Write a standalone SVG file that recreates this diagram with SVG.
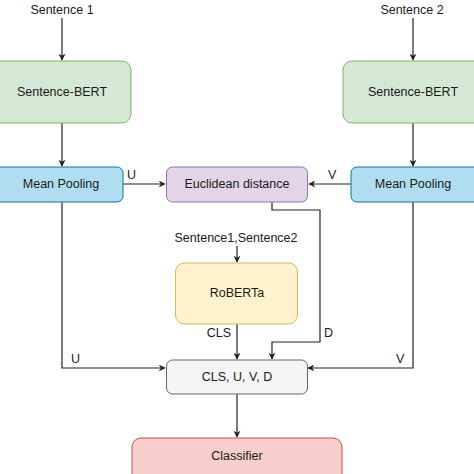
<svg xmlns="http://www.w3.org/2000/svg" width="474" height="474" viewBox="0 0 474 474">
<style>
text{font-family:"Liberation Sans",Arial,sans-serif;font-size:12.5px;fill:#1a1a1a;text-anchor:middle;dominant-baseline:central}
.lbl{text-anchor:start}
.c{fill:none;stroke:#222;stroke-width:1.2}
.g{fill:#d5e8d4;stroke:#82b366}
.b{fill:#b1ddf0;stroke:#10739e}
.p{fill:#e1d5e7;stroke:#9673a6}
.y{fill:#fff2cc;stroke:#d6b656}
.w{fill:#f5f5f5;stroke:#666666}
.r{fill:#f8cecc;stroke:#b85450}
</style>
<defs>
<marker id="ah" viewBox="0 0 10 10" refX="9" refY="5" markerWidth="7" markerHeight="7" orient="auto" markerUnits="userSpaceOnUse">
<path d="M0,0 L10,5 L0,10 L3,5 Z" fill="#222"/>
</marker>
</defs>
<rect width="474" height="474" fill="#fff"/>
<g id="connectors">
<line class="c" x1="62" y1="18" x2="62" y2="60" marker-end="url(#ah)"/>
<line class="c" x1="413" y1="18" x2="413" y2="60" marker-end="url(#ah)"/>
<line class="c" x1="62" y1="123" x2="62" y2="166" marker-end="url(#ah)"/>
<line class="c" x1="413" y1="123" x2="413" y2="166" marker-end="url(#ah)"/>
<line class="c" x1="123" y1="184" x2="165" y2="184" marker-end="url(#ah)"/>
<line class="c" x1="351" y1="184" x2="309" y2="184" marker-end="url(#ah)"/>
<polyline class="c" points="272,202 272,210 320,210 320,342 272,342 272,359" marker-end="url(#ah)"/>
<line class="c" x1="237" y1="246" x2="237" y2="262" marker-end="url(#ah)"/>
<line class="c" x1="237" y1="324" x2="237" y2="359" marker-end="url(#ah)"/>
<polyline class="c" points="62,202 62,368 165,368" marker-end="url(#ah)"/>
<polyline class="c" points="413,202 413,368 308,368" marker-end="url(#ah)"/>
<line class="c" x1="237" y1="394" x2="237" y2="437" marker-end="url(#ah)"/>
<text x="62" y="10">Sentence 1</text>
<text x="412" y="10">Sentence 2</text>
<text class="lbl" x="127" y="175">U</text>
<text class="lbl" x="328" y="175">V</text>
<text x="236" y="238">Sentence1,Sentence2</text>
<text x="219" y="333">CLS</text>
<text class="lbl" x="324" y="333">D</text>
<text class="lbl" x="71" y="359">U</text>
<text class="lbl" x="396" y="359">V</text>
</g>
<g id="sbert1"><rect class="g" x="-8" y="61" width="139" height="62" rx="9"/><text x="62" y="92">Sentence-BERT</text></g>
<g id="sbert2"><rect class="g" x="343" y="61" width="140" height="62" rx="9"/><text x="413" y="92">Sentence-BERT</text></g>
<g id="pool1"><rect class="b" x="-8" y="167" width="131" height="35" rx="6"/><text x="61" y="184">Mean Pooling</text></g>
<g id="pool2"><rect class="b" x="351" y="167" width="132" height="35" rx="6"/><text x="413" y="184">Mean Pooling</text></g>
<g id="euclid"><rect class="p" x="166.5" y="167" width="141" height="35" rx="6"/><text x="237" y="184">Euclidean distance</text></g>
<g id="roberta"><rect class="y" x="175.5" y="263" width="122" height="61" rx="9"/><text x="237" y="293">RoBERTa</text></g>
<g id="concat"><rect class="w" x="166.5" y="360" width="141" height="34" rx="6"/><text x="237" y="377">CLS, U, V, D</text></g>
<g id="classifier"><rect class="r" x="132" y="438" width="210" height="45" rx="9"/><text x="237" y="456">Classifier</text></g>
</svg>
